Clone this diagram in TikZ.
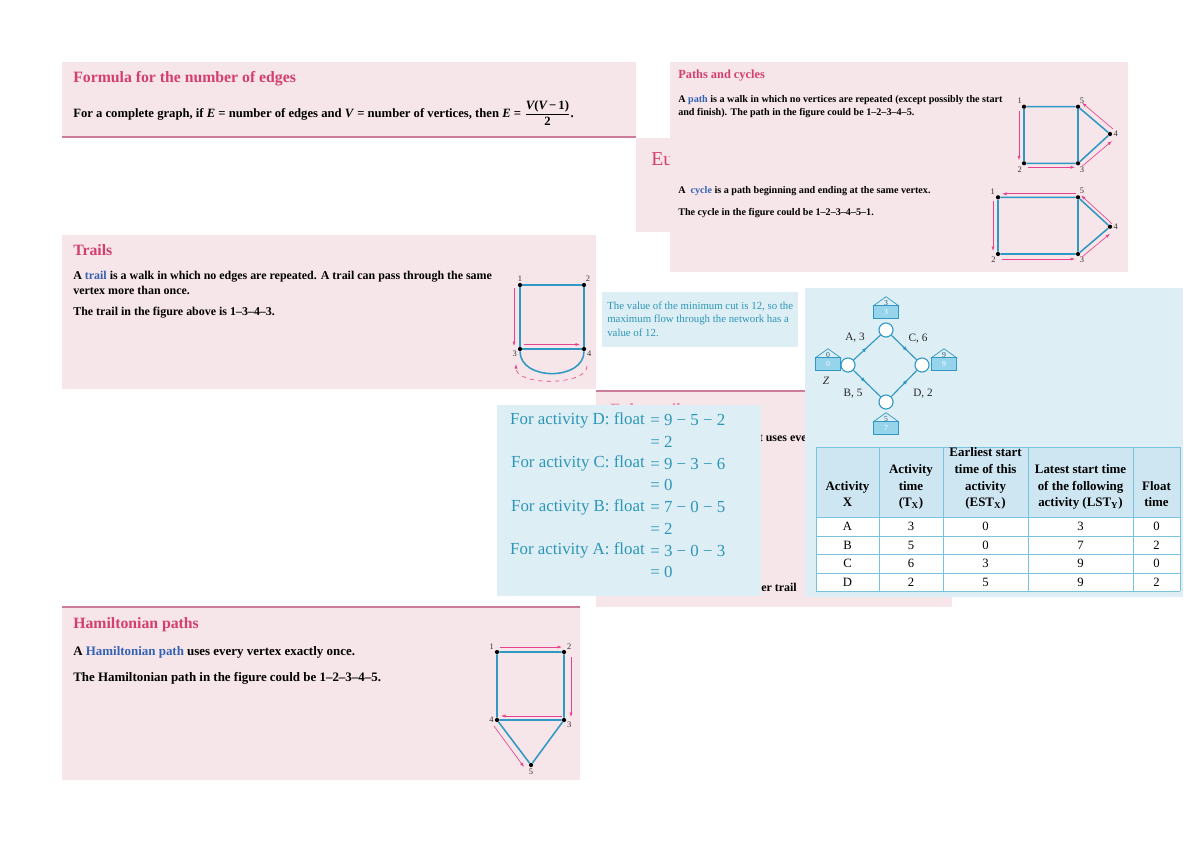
\documentclass[tikz,border=0pt]{standalone}
\usepackage{fontspec}
\setmainfont{Liberation Serif}
\usepackage{amsmath}
\usetikzlibrary{arrows.meta,decorations.markings}
\definecolor{panelpink}{RGB}{246,229,233}
\definecolor{panelblue}{RGB}{222,238,245}
\definecolor{ruleline}{RGB}{205,125,152}
\definecolor{headpink}{RGB}{212,62,112}
\definecolor{keyblue}{RGB}{52,98,178}
\definecolor{edgeteal}{RGB}{48,152,196}
\definecolor{walkpink}{RGB}{232,66,142}
\definecolor{floatteal}{RGB}{45,150,184}
\definecolor{gridline}{RGB}{120,195,222}
\definecolor{headfill}{RGB}{206,230,242}
\definecolor{lowfill}{RGB}{150,212,236}
\tikzset{
  panelrule/.style={ruleline,line width=1.4pt},
  heading/.style={anchor=west,inner sep=0pt,text=headpink,font=\fontsize{11.2}{13}\selectfont\bfseries},
  body/.style={anchor=west,inner sep=0pt,align=left,font=\fontsize{8.5}{10.6}\selectfont\bfseries},
  smallbody/.style={anchor=west,inner sep=0pt,align=left,font=\fontsize{7.2}{9.4}\selectfont\bfseries},
  vtx/.style={circle,fill=black,inner sep=0pt,minimum size=3pt},
  vlab/.style={font=\fontsize{6}{7}\selectfont,inner sep=0.6pt,text=black!80},
  gedge/.style={edgeteal,line width=1.1pt},
  walk/.style={walkpink,line width=0.45pt,-{Latex[length=3.2pt,width=2.2pt]}},
  event/.style={circle,draw=edgeteal,fill=white,line width=0.8pt,inner sep=0pt,minimum size=10pt},
  netedge/.style={edgeteal,line width=0.8pt},
  midarrow/.style={postaction={decorate,decoration={markings,mark=at position #1 with {\arrow{Latex[length=3.5pt,width=2.8pt]}}}}},
  actlab/.style={inner sep=0pt,font=\fontsize{8}{9}\selectfont,text=black!85},
  evnum/.style={inner sep=0pt,font=\fontsize{5.5}{6}\selectfont},
  thead/.style={anchor=south,align=center,inner sep=0pt,font=\fontsize{9.2}{11.8}\selectfont\bfseries},
  tcell/.style={inner sep=0pt,font=\fontsize{9}{10}\selectfont},
  gridrule/.style={gridline,line width=0.6pt},
  floattext/.style={inner sep=0pt,text=floatteal,font=\fontsize{12}{14}\selectfont}
}
\newcommand{\eventhouse}[4]{%
  \filldraw[draw=edgeteal,fill=panelblue,line width=0.5pt] (#1-12.5,#2) -- (#1,#2-9) -- (#1+12.5,#2) -- cycle;
  \filldraw[draw=edgeteal,fill=lowfill,line width=0.5pt] (#1-12.5,#2) rectangle (#1+12.5,#2+13);
  \node[evnum,text=edgeteal!60!black] (evtop#1) at (#1,#2-2.5) {#3};
  \node[evnum,text=white] (evlow#1) at (#1,#2+6.5) {#4};
}

\begin{document}
\begin{tikzpicture}[x=0.025cm,y=-0.025cm]
\useasboundingbox (0,0) rectangle (1200,849);
\fill[white] (0,0) rectangle (1200,849);

\fill[panelpink] (62,62) rectangle (636,137);
\draw[panelrule] (62,137) -- (636,137);
\node[heading] (edgeshead) at (73,79) {Formula for the number of edges};
\node[body,font=\fontsize{9}{11}\selectfont\bfseries] (edgesrule) at (73,113) {For a complete graph, if \textit{E} = number of edges and \textit{V} = number of vertices, then \textit{E} = $\dfrac{\mbox{\bfseries\itshape V\upshape(\itshape V\upshape\,−\,1)}}{\mbox{\bfseries 2}}$.};

\fill[panelpink] (636,138) rectangle (700,232);
\node[anchor=base west,inner sep=0pt,text=headpink,font=\fontsize{14}{16}\selectfont] (eulerpeek) at (651,165) {Eu};

\fill[panelpink] (670,62) rectangle (1128,272);
\node[heading,font=\fontsize{8.8}{10}\selectfont\bfseries] (pathshead) at (678,76) {Paths and cycles};
\node[smallbody] (pathdef) at (678,106.5) {A \textcolor{keyblue}{path} is a walk in which no vertices are repeated (except possibly the start\\and finish). The path in the figure could be 1--2--3--4--5.};
\node[smallbody] (cycledef) at (678,191.5) {A \ \textcolor{keyblue}{cycle} is a path beginning and ending at the same vertex.};
\node[smallbody] (cycleeg) at (678,213) {The cycle in the figure could be 1--2--3--4--5--1.};

\node[vtx,label={[vlab]115:1}] (p1) at (1024,106.7) {};
\node[vtx,label={[vlab]75:5}] (p5) at (1078,106.7) {};
\node[vtx,label={[vlab]0:4}] (p4) at (1110,134) {};
\node[vtx,label={[vlab]-70:3}] (p3) at (1078,163.3) {};
\node[vtx,label={[vlab]-115:2}] (p2) at (1024,163.3) {};
\draw[gedge] (p1) -- (p5) -- (p4) -- (p3) -- (p2) -- (p1) (p5) -- (p3);
\draw[walk] ([shift={(-5,4)}]p1.center) -- ([shift={(-5,-3)}]p2.center);
\draw[walk] ([shift={(4,4)}]p2.center) -- ([shift={(-3,4)}]p3.center);
\draw[walk] ([shift={(4,3)}]p3.center) -- ([shift={(2,7)}]p4.center);
\draw[walk] ([shift={(3,-5)}]p4.center) -- ([shift={(4,-4)}]p5.center);

\node[vtx,label={[vlab]150:1}] (c1) at (998,197.3) {};
\node[vtx,label={[vlab]75:5}] (c5) at (1078,197.3) {};
\node[vtx,label={[vlab]0:4}] (c4) at (1110,226.7) {};
\node[vtx,label={[vlab]-70:3}] (c3) at (1078,254) {};
\node[vtx,label={[vlab]-120:2}] (c2) at (998,254) {};
\draw[gedge] (c1) -- (c5) -- (c4) -- (c3) -- (c2) -- (c1) (c5) -- (c3);
\draw[walk] ([shift={(-5,4)}]c1.center) -- ([shift={(-5,-3)}]c2.center);
\draw[walk] ([shift={(4,5)}]c2.center) -- ([shift={(-3,5)}]c3.center);
\draw[walk] ([shift={(4,3)}]c3.center) -- ([shift={(0,7)}]c4.center);
\draw[walk] ([shift={(2,-3)}]c4.center) -- ([shift={(3,-2)}]c5.center);
\draw[walk] ([shift={(-2,-3.5)}]c5.center) -- ([shift={(4,-3.5)}]c1.center);

\fill[panelpink] (62,235) rectangle (596,389);
\node[heading] (trailhead) at (73,250) {Trails};
\node[body] (traildef) at (73,282.5) {A \textcolor{keyblue}{trail} is a walk in which no edges are repeated. A trail can pass through the same\\vertex more than once.};
\node[body] (traileg) at (73,313) {The trail in the figure above is 1--3--4--3.};
\node[vtx,label={[vlab]90:1}] (t1) at (520,285) {};
\node[vtx,label={[vlab]70:2}] (t2) at (584,285) {};
\node[vtx,label={[vlab]-150:3}] (t3) at (520,349) {};
\node[vtx,label={[vlab]-30:4}] (t4) at (584,349) {};
\draw[gedge] (t1) -- (t2) -- (t4) -- (t3) -- (t1);
\draw[gedge] (t3) .. controls +(0,32) and +(0,32) .. (t4);
\draw[walk] ([shift={(-6,3)}]t1.center) -- ([shift={(-6,-3)}]t3.center);
\draw[walk] ([shift={(4,-4.5)}]t3.center) -- ([shift={(-4,-4.5)}]t4.center);
\draw[walk,dashed] ([shift={(3,17)}]t4.center) .. controls ([shift={(3,37)}]t4.center) and ([shift={(-4,37)}]t3.center) .. ([shift={(-4,15)}]t3.center);

\fill[panelblue] (602,292) rectangle (798,347);
\node[anchor=west,inner sep=0pt,align=left,text=floatteal,font=\fontsize{7.7}{9.6}\selectfont] (cutnote) at (607,319) {The value of the minimum cut is 12, so the\\maximum flow through the network has a\\value of 12.};

\fill[panelpink] (596,391) rectangle (952,607);
\draw[panelrule] (596,391) -- (952,391);
\node[heading,text=headpink!60] (eulerhead) at (610,409) {Euler trails};
\node[body,anchor=base west] (eulerdef) at (758.5,441) {t uses every edge};
\node[body,anchor=base west] (eulereg) at (761,591) {er trail};

\fill[panelblue] (805,288) rectangle (1183,597);
\eventhouse{886}{305.7}{3}{3}
\eventhouse{828}{357.7}{0}{0}
\eventhouse{944}{357.7}{9}{9}
\eventhouse{886}{421.7}{5}{7}
\node[event] (n1) at (848,365) {};
\node[event] (n2) at (886,330) {};
\node[event] (n3) at (886,402) {};
\node[event] (n4) at (922,365) {};
\draw[netedge,midarrow=0.5] (n1) -- (n2);
\draw[netedge,midarrow=0.65] (n2) -- (n4);
\draw[netedge,midarrow=0.45] (n1) -- (n3);
\draw[netedge,midarrow=0.65] (n3) -- (n4);
\node[actlab] (labA) at (855,338) {A, 3};
\node[actlab] (labC) at (918,339) {C, 6};
\node[actlab] (labB) at (853,394) {B, 5};
\node[actlab] (labD) at (923,394) {D, 2};
\node[actlab,font=\fontsize{8}{9}\selectfont\itshape] (labZ) at (826,381) {Z};

\fill[headfill] (816,447) rectangle (1180,517);
\fill[white] (816,517) rectangle (1180,591);
\foreach \cx in {816,879,943,1028,1133,1180} \draw[gridrule] (\cx,447) -- (\cx,591);
\foreach \ry in {447,517,536,554,573,591} \draw[gridrule] (816,\ry) -- (1180,\ry);
\node[thead] (hact) at (847.5,512) {Activity\\X\strut};
\node[thead] (htime) at (911,512) {Activity\\time\\(T\textsubscript{X})\strut};
\node[thead] (hest) at (985.5,512) {Earliest start\\time of this\\activity\\(EST\textsubscript{X})\strut};
\node[thead] (hlst) at (1080.5,512) {Latest start time\\of the following\\activity (LST\textsubscript{Y})\strut};
\node[thead] (hflt) at (1156.5,512) {Float\\time\strut};
\foreach \ry/\a/\b/\c/\d/\e in {526.5/A/3/0/3/0,545/B/5/0/7/2,563.5/C/6/3/9/0,582/D/2/5/9/2}{
  \node[tcell] (act\a) at (847.5,\ry) {\a};
  \node[tcell] (time\a) at (911,\ry) {\b};
  \node[tcell] (est\a) at (985.5,\ry) {\c};
  \node[tcell] (lst\a) at (1080.5,\ry) {\d};
  \node[tcell] (flt\a) at (1156.5,\ry) {\e};
}

\fill[panelblue] (497,405) rectangle (761,596);
\foreach \yy/\act/\sums/\res in {420/D/9 − 5 − 2/2,463.5/C/9 − 3 − 6/0,507/B/7 − 0 − 5/2,550.5/A/3 − 0 − 3/0}{
  \node[floattext,anchor=east] (float\act) at (645,\yy) {For activity \act: float};
  \node[floattext,anchor=west] (sum\act) at (650,\yy) {= \sums};
  \node[floattext,anchor=west] (res\act) at (650,\yy+21.5) {= \res};
}

\fill[panelpink] (62,607) rectangle (580,780);
\draw[panelrule] (62,607) -- (580,607);
\node[heading] (hamhead) at (73,625) {Hamiltonian paths};
\node[body,font=\fontsize{9.2}{11}\selectfont\bfseries] (hamdef) at (73,652) {A \textcolor{keyblue}{Hamiltonian path} uses every vertex exactly once.};
\node[body,font=\fontsize{9.2}{11}\selectfont\bfseries] (hameg) at (73,678) {The Hamiltonian path in the figure could be 1--2--3--4--5.};
\node[vtx,label={[vlab]150:1}] (h1) at (497,652) {};
\node[vtx,label={[vlab]30:2}] (h2) at (564,652) {};
\node[vtx,label={[vlab]-30:3}] (h3) at (564,720) {};
\node[vtx,label={[vlab]180:4}] (h4) at (497,720) {};
\node[vtx,label={[vlab]-90:5}] (h5) at (531,765) {};
\draw[gedge] (h1) -- (h2) -- (h3) -- (h4) -- (h1) (h4) -- (h5) -- (h3);
\draw[walk] ([shift={(3,-5)}]h1.center) -- ([shift={(-2,-5)}]h2.center);
\draw[walk] ([shift={(7,5)}]h2.center) -- ([shift={(7,-3)}]h3.center);
\draw[walk] ([shift={(-2,-4)}]h3.center) -- ([shift={(4,-4)}]h4.center);
\draw[walk] ([shift={(-3,6)}]h4.center) -- ([shift={(-7,2)}]h5.center);
\end{tikzpicture}
\end{document}
